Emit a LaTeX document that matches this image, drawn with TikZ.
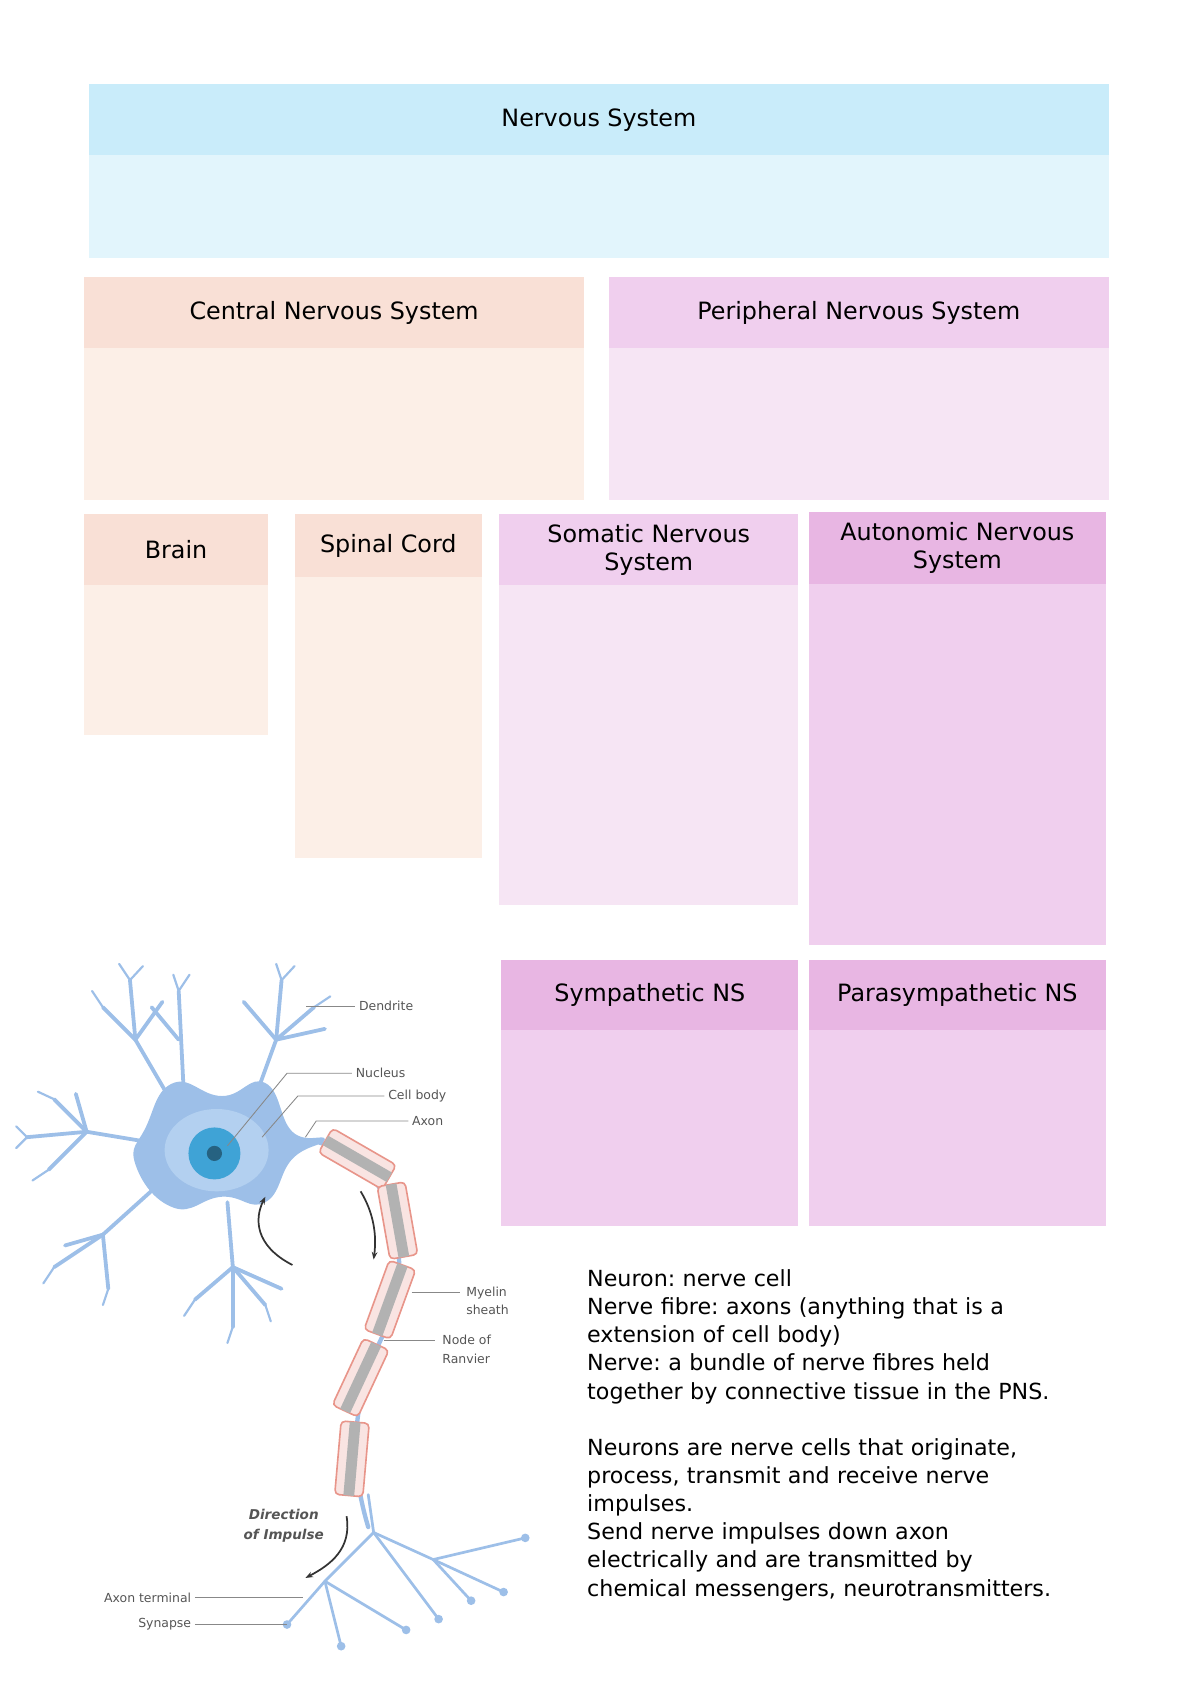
\documentclass[tikz,border=0pt]{standalone}
\usepackage{fontspec}
\setmainfont{DejaVu Sans}
\usetikzlibrary{arrows.meta, positioning, calc}
\definecolor{nshead}{HTML}{C9ECFA}
\definecolor{nsbody}{HTML}{E2F5FC}
\definecolor{cnshead}{HTML}{F9E0D6}
\definecolor{cnsbody}{HTML}{FCEFE7}
\definecolor{pnshead}{HTML}{F0CFEE}
\definecolor{pnsbody}{HTML}{F6E5F4}
\definecolor{anshead}{HTML}{E8B6E3}
\definecolor{ansbody}{HTML}{F0CFEE}
\definecolor{cell}{HTML}{9DBFE8}
\definecolor{cellin}{HTML}{B3D0F0}
\definecolor{nucl}{HTML}{3FA3D6}
\definecolor{myelin}{HTML}{E8958A}
\definecolor{lbl}{HTML}{555555}
\tikzset{
  title/.style={font=\fontsize{22}{26}\selectfont, align=center, text=black},
  lab/.style={font=\fontsize{11.5}{17}\selectfont, text=lbl, align=left, anchor=west},
  leader/.style={draw=lbl!70, line width=0.8pt},
  dend/.style={draw=cell, line cap=round, line join=round},
  flow/.style={draw=black!80, line width=1.6pt, -{Stealth[length=7pt]}},
}
% panel: name, x1, y1, x2, y2, header bottom, header colour, body colour, title
\newcommand{\panel}[9]{%
  \fill[#8] (#2,#3) rectangle (#4,#5);
  \fill[#7] (#2,#3) rectangle (#4,#6);
  \node[title] (#1) at ({(#2+#4)/2},{(#3+#6)/2}) {#9};
}
\begin{document}
\frenchspacing
\begin{tikzpicture}[x=1pt,y=-1pt]
\useasboundingbox (0,0) rectangle (1108,1566);

% organisation chart
\panel{ns}{82}{78}{1024}{238}{143}{nshead}{nsbody}{Nervous System}
\panel{cns}{78}{256}{539}{462}{321}{cnshead}{cnsbody}{Central Nervous System}
\panel{pns}{562}{256}{1024}{462}{321}{pnshead}{pnsbody}{Peripheral Nervous System}
\panel{brain}{78}{475}{247}{679}{540}{cnshead}{cnsbody}{Brain}
\panel{cord}{272}{475}{445}{792}{533}{cnshead}{cnsbody}{Spinal Cord}
\panel{soma}{461}{475}{737}{836}{540}{pnshead}{pnsbody}{Somatic Nervous\\System}
\panel{auto}{747}{473}{1021}{873}{539}{anshead}{ansbody}{Autonomic Nervous\\System}
\panel{symp}{463}{886}{737}{1132}{951}{anshead}{ansbody}{Sympathetic NS}
\panel{para}{747}{886}{1021}{1132}{951}{anshead}{ansbody}{Parasympathetic NS}

% notes
\node[anchor=north west, align=left, font=\fontsize{20.5}{26}\selectfont, text width=540pt, inner sep=0pt] (notes) at (542,1172)
{Neuron: nerve cell\\
Nerve fibre: axons (anything that is a\\ extension of cell body)\\
Nerve: a bundle of nerve fibres held\\ together by connective tissue in the PNS.\\[26pt]
Neurons are nerve cells that originate,\\ process, transmit and receive nerve\\ impulses.\\
Send nerve impulses down axon\\ electrically and are transmitted by\\ chemical messengers, neurotransmitters.};

% neuron: dendrites
\foreach \a/\b/\c/\d in {
  160/1020/125/960, 125/960/120/905, 125/960/95/930, 125/960/150/925,
  170/1015/165/915, 165/960/140/930,
  235/1015/255/960, 255/960/260/905, 255/960/225/925, 255/960/290/930, 255/960/300/950,
  140/1055/80/1045, 80/1045/25/1050, 80/1045/50/1015, 80/1045/45/1080, 80/1045/70/1010,
  145/1095/95/1140, 95/1140/50/1170, 95/1140/100/1190, 95/1140/60/1150,
  210/1110/215/1170, 215/1170/215/1225, 215/1170/180/1200, 215/1170/245/1205, 215/1170/260/1190}
  \draw[dend, line width=3.5pt] (\a,\b) -- (\c,\d);
\foreach \a/\b/\c/\d in {
  120/905/110/890, 120/905/132/892, 95/930/85/915, 165/915/160/900, 165/915/175/900,
  260/905/255/890, 260/905/272/892, 290/930/305/920, 25/1050/15/1040, 25/1050/15/1060,
  50/1015/35/1008, 45/1080/30/1090, 50/1170/40/1185, 100/1190/95/1205, 215/1225/210/1240,
  180/1200/170/1215, 245/1205/250/1220}
  \draw[dend, line width=2pt] (\a,\b) -- (\c,\d);

% cell body and nucleus
\fill[cell] plot[smooth cycle, tension=0.8] coordinates {
  (160,1000) (205,1012) (245,1000) (270,1045) (300,1052) (270,1070) (245,1110)
  (205,1105) (160,1115) (125,1075) (135,1040)};
\fill[cellin] (200,1062) ellipse (48pt and 38pt);
\fill[nucl] (198,1065) circle (24pt);
\fill[nucl!60!black] (198,1065) circle (7pt);

% axon with myelin sheath
\draw[dend, line width=4pt] (295,1055) .. controls (365,1075) and (385,1160) .. (355,1230)
  .. controls (320,1300) and (325,1360) .. (340,1410);
\foreach \x/\y/\r in {330/1070/-30, 367/1127/-80, 360/1200/-110, 333/1272/-115, 325/1347/-95}
  \draw[myelin, fill=myelin!25, line width=1.5pt, rounded corners=4pt, rotate around={\r:(\x,\y)}]
    (\x-34,\y-13) rectangle (\x+34,\y+13);
\foreach \x/\y/\r in {330/1070/-30, 367/1127/-80, 360/1200/-110, 333/1272/-115, 325/1347/-95}
  \fill[black!30, rotate around={\r:(\x,\y)}] (\x-34,\y-5) rectangle (\x+34,\y+5);

% axon terminals
\foreach \a/\b/\c/\d in {
  340/1380/345/1415, 345/1415/400/1440, 400/1440/485/1420, 400/1440/465/1470,
  400/1440/435/1478, 345/1415/405/1495, 345/1415/300/1460, 300/1460/265/1500,
  300/1460/315/1520, 300/1460/375/1505}
  \draw[dend, line width=2.5pt] (\a,\b) -- (\c,\d);
\foreach \x/\y in {485/1420, 465/1470, 435/1478, 405/1495, 265/1500, 315/1520, 375/1505}
  \fill[cell] (\x,\y) circle (4pt);

% direction arrows
\draw[flow] (270,1168) .. controls (235,1150) and (235,1125) .. (245,1105);
\draw[flow] (333,1100) .. controls (345,1120) and (348,1140) .. (345,1163);
\draw[flow] (320,1400) .. controls (325,1430) and (305,1445) .. (282,1457);
\node[font=\fontsize{12.5}{18}\selectfont\bfseries\itshape, text=lbl, align=center] (dir) at (262,1409) {Direction\\of Impulse};

% labels
\node[lab] (dendrite) at (328,929) {Dendrite};
\node[lab] (nucleus) at (325,991) {Nucleus};
\node[lab] (body) at (355,1012) {Cell body};
\node[lab] (axon) at (377,1035) {Axon};
\node[lab] (sheath) at (427,1201) {Myelin\\sheath};
\node[lab] (ranvier) at (405,1246) {Node of\\Ranvier};
\node[lab, anchor=east] (terminal) at (180,1475) {Axon terminal};
\node[lab, anchor=east] (synapse) at (180,1500) {Synapse};
\coordinate (pDend) at (283,929);
\coordinate (pNuc) at (210,1058);
\coordinate (pBody) at (242,1050);
\coordinate (pAxon) at (282,1050);
\coordinate (pSheath) at (380,1193);
\coordinate (pRanvier) at (355,1238);
\coordinate (pTerm) at (280,1475);
\coordinate (pSyn) at (265,1500);
\draw[leader] (pDend) -- (dendrite.west);
\draw[leader] (pNuc) -- (265,991) -- (nucleus.west);
\draw[leader] (pBody) -- (275,1012) -- (body.west);
\draw[leader] (pAxon) -- (292,1035) -- (axon.west);
\draw[leader] (pSheath) -- (425,1193);
\draw[leader] (pRanvier) -- (402,1238);
\draw[leader] (terminal.east) -- (pTerm);
\draw[leader] (synapse.east) -- (pSyn);
\end{tikzpicture}
\end{document}
